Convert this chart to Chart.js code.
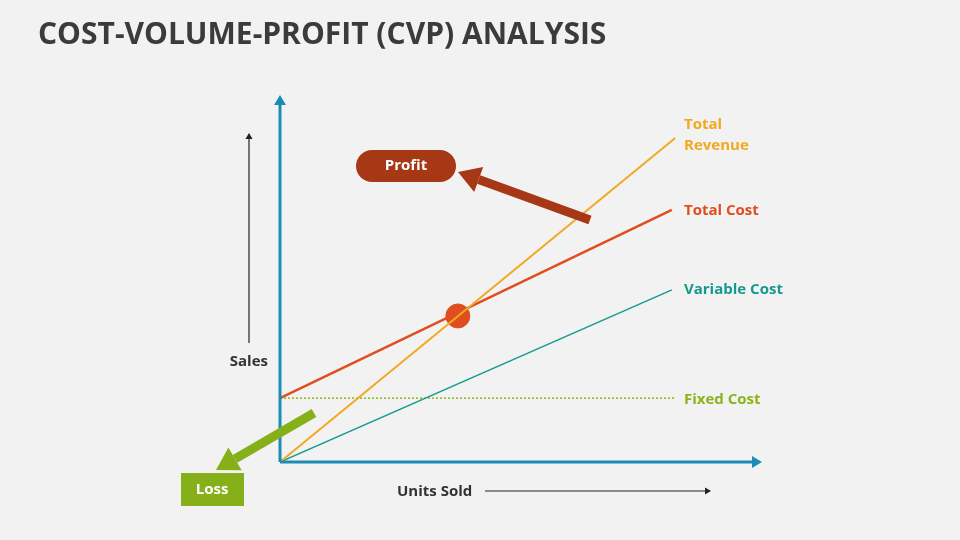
<!DOCTYPE html>
<html><head><meta charset="utf-8">
<script src="https://cdn.jsdelivr.net/npm/chart.js@4"></script>
<style>html,body{margin:0;background:#f2f2f2}#w{width:960px;height:540px}</style>
</head><body><div id="w"><canvas id="c"></canvas></div>
<script>
const revenueX=[0,82], revenueY=[0,88.3];
const totalCostX=[0,81.3], totalCostY=[17.4,68.7];
const variableX=[0,81.3], variableY=[0,46.9];
const fixedX=[0,82], fixedY=[17.4,17.4];
const breakEven=[36.9,39.8];
const labels=["Total\nRevenue","Total Cost","Variable Cost","Fixed Cost"];
const pts=(xs,ys)=>xs.map((x,i)=>({x,y:ys[i]}));
const cols=['#f2a922','#e04e1f','#16998f','#8db31a'];
function arrow(ctx,x1,y1,x2,y2,col,w,h){ctx.save();ctx.strokeStyle=col;ctx.fillStyle=col;ctx.lineWidth=w;const a=Math.atan2(y2-y1,x2-x1);
ctx.beginPath();ctx.moveTo(x1,y1);ctx.lineTo(x2-h*Math.cos(a),y2-h*Math.sin(a));ctx.stroke();
ctx.beginPath();ctx.moveTo(x2,y2);ctx.lineTo(x2-h*Math.cos(a)+h*0.6*Math.sin(a),y2-h*Math.sin(a)-h*0.6*Math.cos(a));
ctx.lineTo(x2-h*Math.cos(a)-h*0.6*Math.sin(a),y2-h*Math.sin(a)+h*0.6*Math.cos(a));ctx.closePath();ctx.fill();ctx.restore();}
const deco={id:'deco',afterDatasetsDraw(ch){const ctx=ch.ctx,xs=ch.scales.x,ys=ch.scales.y;
const ox=xs.getPixelForValue(0),oy=ys.getPixelForValue(0);
arrow(ctx,ox,oy,xs.right,oy,'#1b8db5',3,10);arrow(ctx,ox,oy,ox,ys.top,'#1b8db5',3,10);
arrow(ctx,249,343,249,133,'#222',1.2,6);arrow(ctx,485,491,711,491,'#222',1.2,6);
ctx.font='bold 15px "Open Sans"';ctx.fillStyle='#333';ctx.textBaseline='middle';
ctx.textAlign='right';ctx.fillText('Sales',268,362);ctx.textAlign='left';ctx.fillText('Units Sold',397,492);
const ends=[[684,125],[684,211],[684,290],[684,400]];
labels.forEach((l,i)=>{ctx.fillStyle=cols[i];l.split('\n').forEach((t,j)=>ctx.fillText(t,ends[i][0],ends[i][1]+j*21));});
arrow(ctx,590,220,458,172,'#a63816',9,22);
ctx.fillStyle='#a63816';ctx.beginPath();ctx.roundRect(356,150,100,32,16);ctx.fill();
ctx.fillStyle='#fff';ctx.textAlign='center';ctx.fillText('Profit',406,166);
arrow(ctx,314,413,216,470,'#86b019',9,22);
ctx.fillStyle='#86b019';ctx.fillRect(181,473,63,33);ctx.fillStyle='#fff';ctx.fillText('Loss',212,490);
ctx.font='bold 30px "Open Sans"';ctx.fillStyle='#3b3b3b';ctx.textAlign='left';ctx.fillText('COST-VOLUME-PROFIT (CVP) ANALYSIS',38,35);
}};
new Chart(document.getElementById('c'),{type:'line',data:{datasets:[
{data:pts(revenueX,revenueY),borderColor:cols[0],borderWidth:2,pointRadius:0},
{data:pts(totalCostX,totalCostY),borderColor:cols[1],borderWidth:2.5,pointRadius:0},
{data:pts(variableX,variableY),borderColor:cols[2],borderWidth:1.5,pointRadius:0},
{data:pts(fixedX,fixedY),borderColor:cols[3],borderWidth:1.5,borderDash:[2,2],pointRadius:0},
{data:[{x:breakEven[0],y:breakEven[1]}],borderColor:'#e04e1f',backgroundColor:'#e04e1f',pointRadius:12,showLine:false}
]},options:{responsive:true,maintainAspectRatio:false,animation:false,
layout:{padding:{left:280,right:198,top:95,bottom:78}},
plugins:{legend:{display:false},tooltip:{enabled:false}},
scales:{x:{type:'linear',min:0,max:100,display:false},y:{min:0,max:100,display:false}}},plugins:[deco]});
</script></body></html>
